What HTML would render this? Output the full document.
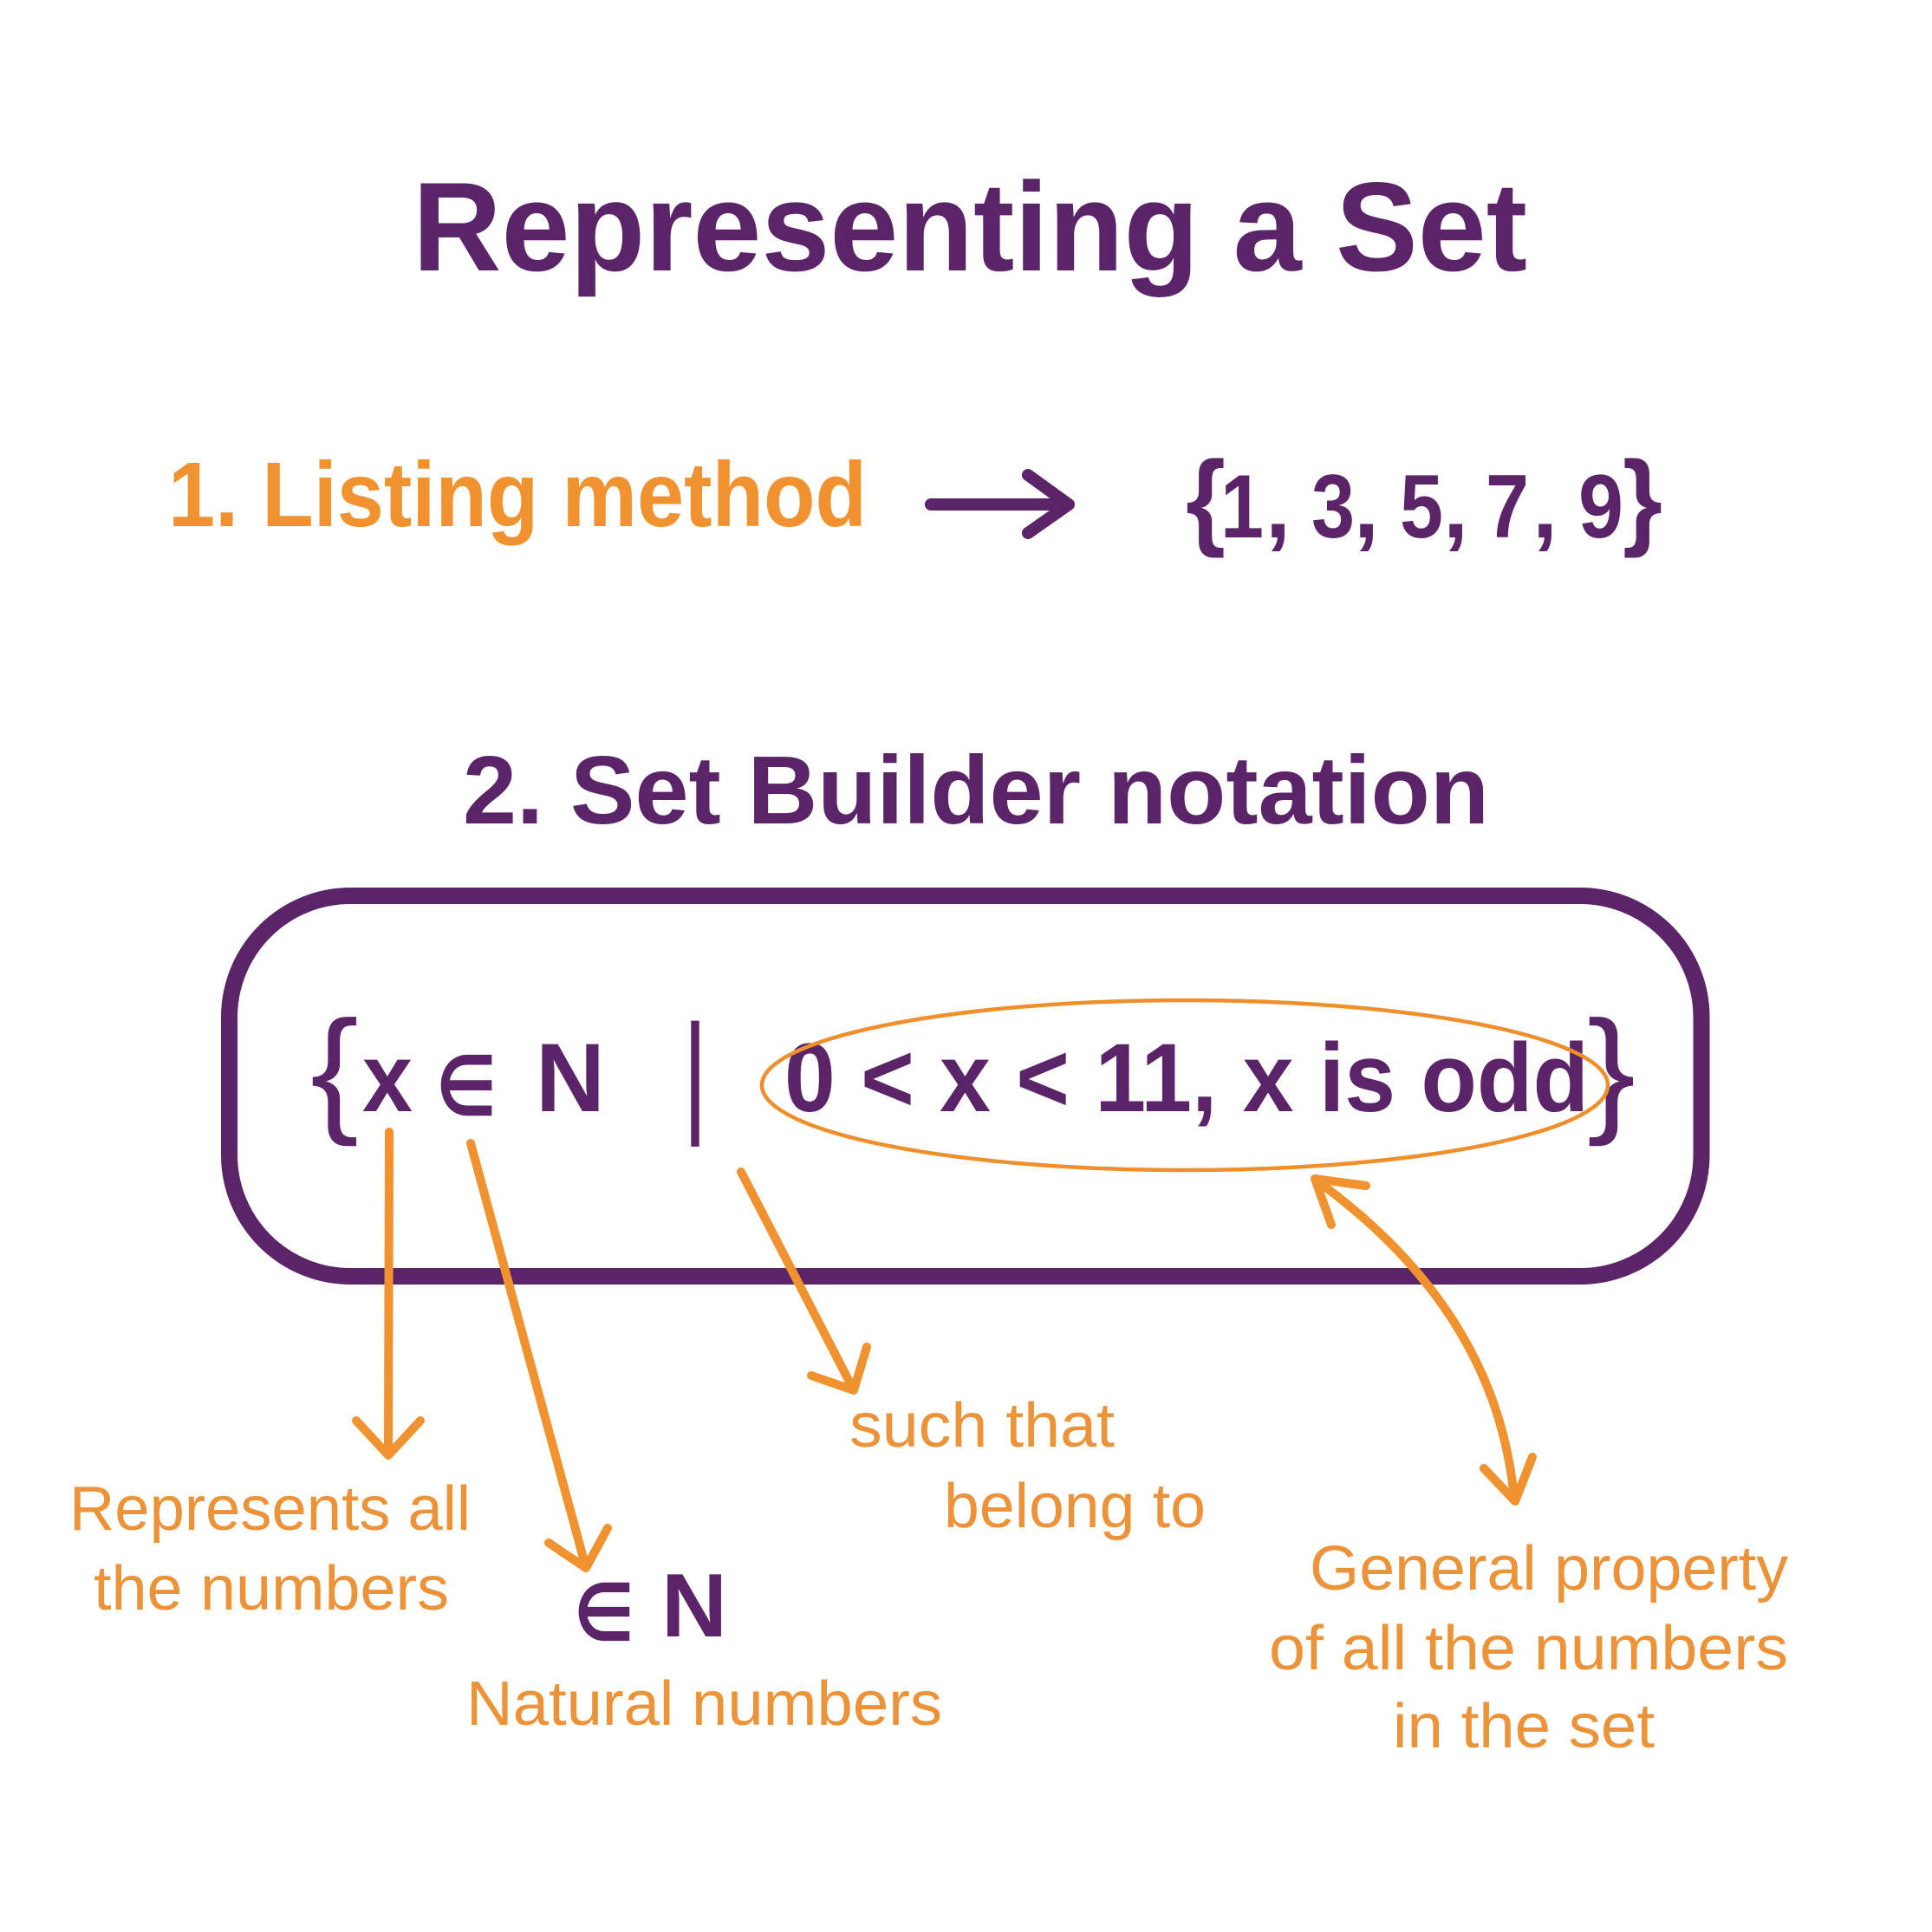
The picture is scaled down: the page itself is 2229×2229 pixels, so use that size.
<!DOCTYPE html>
<html>
<head>
<meta charset="utf-8">
<style>
html,body{margin:0;padding:0;background:#ffffff;}
svg{display:block;}
.p{fill:#5b2468;}
.o{fill:#ef922f;}
.ol{fill:#ec9238;}
.b{font-family:"Liberation Sans","DejaVu Sans",sans-serif;font-weight:bold;}
.r{font-family:"Liberation Sans","DejaVu Sans",sans-serif;font-weight:normal;}
.m{font-family:"DejaVu Sans","Liberation Sans",sans-serif;font-weight:bold;}
</style>
</head>
<body>
<svg width="2229" height="2229" viewBox="0 0 2229 2229" xmlns="http://www.w3.org/2000/svg">
  <rect x="0" y="0" width="2229" height="2229" fill="#ffffff"/>

  <!-- Title -->
  <text class="b p" x="476" y="312" font-size="146" textLength="1286" lengthAdjust="spacingAndGlyphs">Representing a Set</text>

  <!-- 1. Listing method -->
  <text class="b o" x="194" y="607" font-size="106" textLength="806" lengthAdjust="spacingAndGlyphs">1. Listing method</text>
  <g stroke="#5b2468" stroke-width="14" stroke-linecap="round" stroke-linejoin="round" fill="none">
    <line x1="1074" y1="582" x2="1226" y2="582"/>
    <polyline points="1186,548 1233,582 1186,615"/>
  </g>
  <text class="b p" x="1368" y="618" font-size="123" textLength="46" lengthAdjust="spacingAndGlyphs">{</text>
  <g class="b p" font-size="104">
    <text x="1408" y="620" textLength="50" lengthAdjust="spacingAndGlyphs">1</text>
    <text x="1460" y="620">,</text>
    <text x="1513" y="620" textLength="50" lengthAdjust="spacingAndGlyphs">3</text>
    <text x="1562" y="620">,</text>
    <text x="1615" y="620" textLength="50" lengthAdjust="spacingAndGlyphs">5</text>
    <text x="1665" y="620">,</text>
    <text x="1714" y="620" textLength="50" lengthAdjust="spacingAndGlyphs">7</text>
    <text x="1768" y="620">,</text>
    <text x="1821" y="620" textLength="52" lengthAdjust="spacingAndGlyphs">9</text>
  </g>
  <text class="b p" x="1872" y="618" font-size="123" textLength="46" lengthAdjust="spacingAndGlyphs">}</text>

  <!-- 2. Set Builder notation -->
  <text class="b p" x="534" y="950" font-size="111" textLength="1184" lengthAdjust="spacingAndGlyphs">2. Set Builder notation</text>

  <!-- Rounded box -->
  <rect x="264.5" y="1033.5" width="1698.5" height="439" rx="140" ry="140" fill="none" stroke="#5b2468" stroke-width="19"/>

  <!-- Formula -->
  <text class="r p" x="358" y="1289" font-size="160" textLength="56" lengthAdjust="spacingAndGlyphs">{</text>
  <text class="b p" x="418" y="1282" font-size="112" textLength="58" lengthAdjust="spacingAndGlyphs">x</text>
  <text class="m p" x="503" y="1287" font-size="96" textLength="70" lengthAdjust="spacingAndGlyphs">∈</text>
  <text class="b p" x="618" y="1282" font-size="112" textLength="80" lengthAdjust="spacingAndGlyphs">N</text>
  <text class="r p" x="787" y="1290" font-size="155" textLength="30" lengthAdjust="spacingAndGlyphs">|</text>
  <text class="b p" x="905" y="1282" font-size="112" textLength="928" lengthAdjust="spacingAndGlyphs">0 &lt; x &lt; 11, x is odd</text>
  <text class="r p" x="1831" y="1289" font-size="160" textLength="56" lengthAdjust="spacingAndGlyphs">}</text>

  <!-- Orange ellipse -->
  <ellipse cx="1367" cy="1252" rx="488" ry="98" fill="none" stroke="#ef8f2c" stroke-width="4.5"/>

  <!-- Orange arrows -->
  <g stroke="#ef922f" stroke-width="10" stroke-linecap="round" stroke-linejoin="round" fill="none">
    <line x1="449" y1="1306" x2="448" y2="1676"/>
    <polyline points="411,1639 448,1679 485,1639"/>

    <line x1="543" y1="1319" x2="675" y2="1805"/>
    <polyline points="633,1780 676,1809 701,1763"/>

    <line x1="855" y1="1352" x2="983" y2="1600"/>
    <polyline points="936,1587 985,1604 1000,1554"/>

    <path d="M1519,1362 Q1727,1513 1747,1729"/>
    <polyline points="1576,1368 1517,1360 1536,1413"/>
    <polyline points="1712,1694 1748,1732 1768,1681"/>
  </g>

  <!-- Labels -->
  <text class="r ol" x="80" y="1765" font-size="72" textLength="463" lengthAdjust="spacingAndGlyphs">Represents all</text>
  <text class="r ol" x="108" y="1857" font-size="72" textLength="410" lengthAdjust="spacingAndGlyphs">the numbers</text>

  <text class="m p" x="662" y="1893" font-size="92" textLength="70" lengthAdjust="spacingAndGlyphs">∈</text>
  <text class="b p" x="763" y="1888" font-size="104" textLength="76" lengthAdjust="spacingAndGlyphs">N</text>

  <text class="r ol" x="538" y="1990" font-size="72" textLength="549" lengthAdjust="spacingAndGlyphs">Natural numbers</text>

  <text class="r ol" x="980" y="1669" font-size="72" textLength="306" lengthAdjust="spacingAndGlyphs">such that</text>
  <text class="r ol" x="1089" y="1762" font-size="72" textLength="302" lengthAdjust="spacingAndGlyphs">belong to</text>

  <text class="r ol" x="1511" y="1834" font-size="72" textLength="552" lengthAdjust="spacingAndGlyphs">General property</text>
  <text class="r ol" x="1464" y="1926" font-size="72" textLength="599" lengthAdjust="spacingAndGlyphs">of all the numbers</text>
  <text class="r ol" x="1607" y="2016" font-size="72" textLength="302" lengthAdjust="spacingAndGlyphs">in the set</text>
</svg>
</body>
</html>
